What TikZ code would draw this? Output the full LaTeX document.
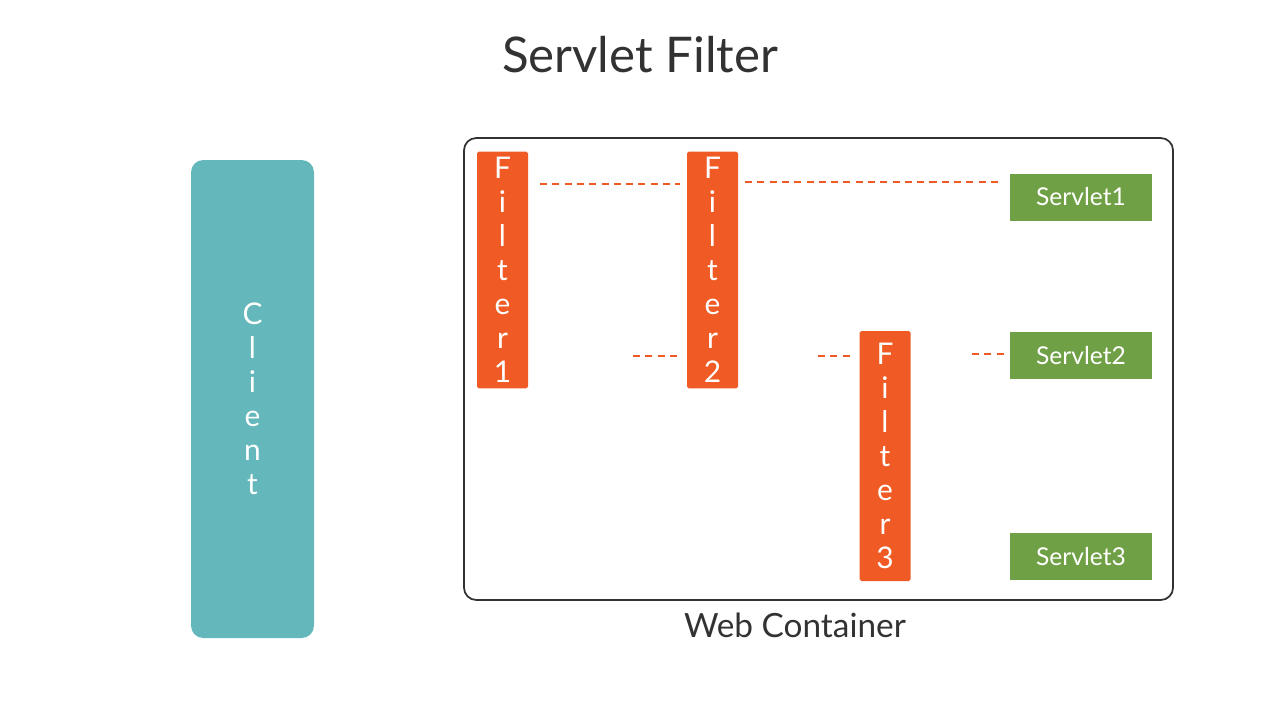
\documentclass[tikz,border=0pt]{standalone}
\usepackage{fontspec}
\setmainfont{Lato}
\usetikzlibrary{positioning}
\definecolor{clientteal}{RGB}{100,183,186}
\definecolor{filterorange}{RGB}{240,90,36}
\definecolor{servletgreen}{RGB}{112,160,70}
\definecolor{textgray}{RGB}{50,50,50}
\newcommand{\stackfont}{\fontsize{17}{19.3}\selectfont}
\begin{document}
\begin{tikzpicture} [
  x=0.02cm, y=-0.02cm,
  filter/.style={fill=filterorange, text=white, draw=none, rounded corners=1pt,
    minimum width=51*0.02cm, align=center, font=\stackfont},
  servlet/.style={fill=servletgreen, text=white, minimum width=142*0.02cm,
    minimum height=47*0.02cm, inner sep=0, font=\fontsize{14}{16}\selectfont},
  link/.style={draw=filterorange, line width=1.2pt, dash pattern=on 4pt off 3pt}
  ]
  \useasboundingbox (0,0) rectangle (1280,720);
  \node (title) at (640,55) [text=textgray, font=\fontsize{28}{32}\selectfont] {Servlet Filter};
  % client
  \node (client) at (252.5,399) [fill=clientteal, rounded corners=7pt, minimum width=123*0.02cm,
    minimum height=478*0.02cm, text=white, align=center, font=\stackfont] {C\\l\\i\\e\\n\\t};
  % web container
  \node (web) at (818.5,369) [draw=textgray, line width=1pt, rounded corners=7pt,
    minimum width=709*0.02cm, minimum height=462*0.02cm] {};
  \node (webl) at (795,625) [text=textgray, font=\fontsize{19}{22}\selectfont] {Web Container};
  % filters
  \node (f1) at (502.5,270) [filter, minimum height=222*0.02cm] {F\\i\\l\\t\\e\\r\\1};
  \node (f2) at (712.5,270) [filter, minimum height=222*0.02cm] {F\\i\\l\\t\\e\\r\\2};
  \node (f3) at (885,456) [filter, minimum height=250*0.02cm] {F\\i\\l\\t\\e\\r\\3};
  % servlets
  \node (s1) at (1081,197) [servlet] {Servlet1};
  \node (s2) at (1081,355.5) [servlet] {Servlet2};
  \node (s3) at (1081,556.5) [servlet] {Servlet3};
  % dashed links
  \coordinate (a1) at (540,184); \coordinate (a2) at (680,184);
  \coordinate (b1) at (745,182); \coordinate (b2) at (1003,182);
  \coordinate (c1) at (633,356); \coordinate (c2) at (680,356);
  \coordinate (d1) at (818,356); \coordinate (d2) at (852,356);
  \coordinate (e1) at (972,354); \coordinate (e2) at (1005,354);
  \draw[link] (a1) -- (a2);
  \draw[link] (b1) -- (b2);
  \draw[link] (c1) -- (c2);
  \draw[link] (d1) -- (d2);
  \draw[link] (e1) -- (e2);
\end{tikzpicture}
\end{document}
